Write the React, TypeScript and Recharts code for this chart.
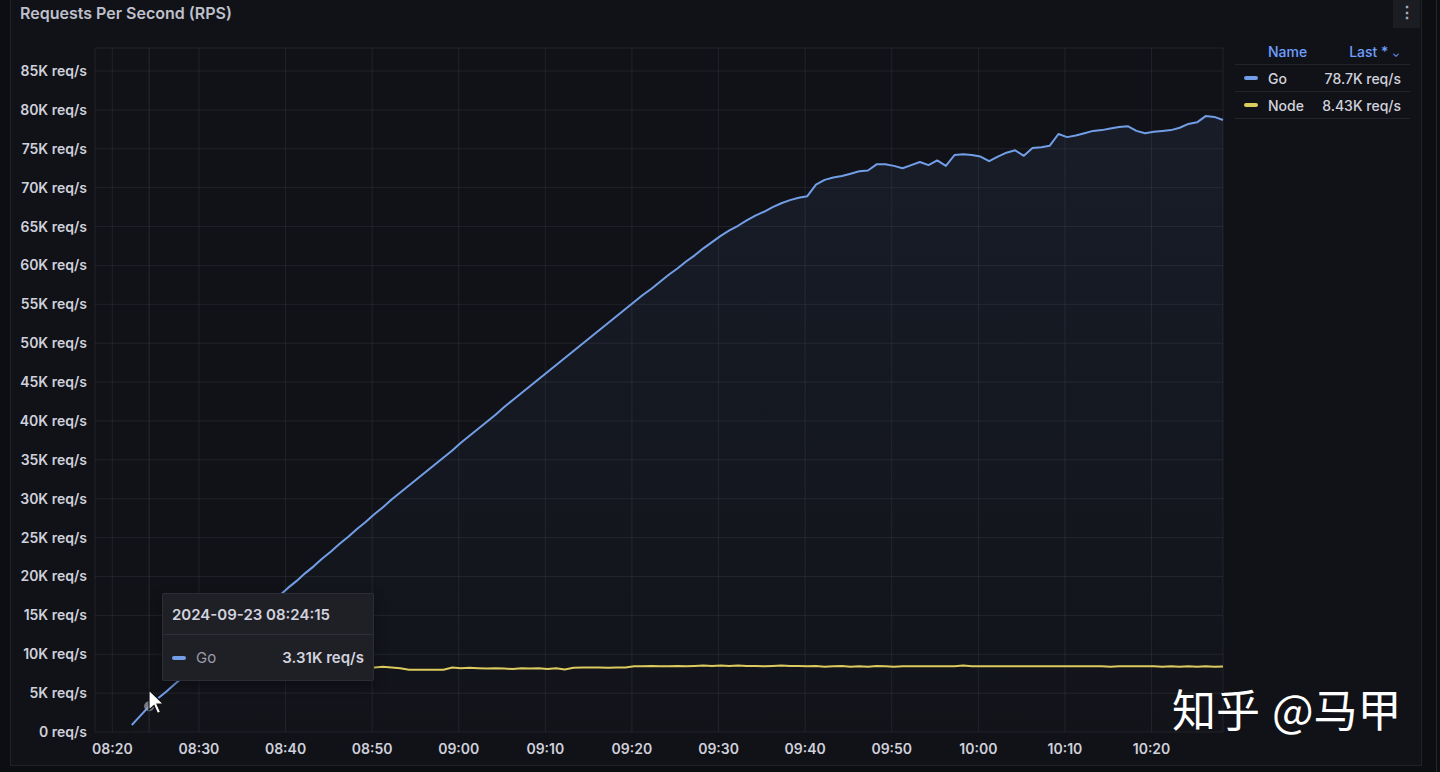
import React from 'react'
import { ComposedChart, Area, Line, XAxis, YAxis, CartesianGrid, Tooltip } from 'recharts'

// one sample per minute, first one at 2024-09-23 08:22:15 (minutes after 08:00)
const START_MINUTE = 22.25

// K req/s
const GO_RPS = [
  0.9, 2.1, 3.31, 4.3, 5.2, 6.2, 7.1, 8.1, 9.0, 10.0,
  10.9, 11.9, 12.8, 13.8, 14.7, 15.7, 16.6, 17.5, 18.5, 19.4,
  20.4, 21.3, 22.3, 23.2, 24.2, 25.1, 26.1, 27.0, 28.0, 28.9,
  29.9, 30.8, 31.7, 32.6, 33.5, 34.4, 35.3, 36.2, 37.2, 38.1,
  39.0, 39.9, 40.8, 41.8, 42.7, 43.6, 44.5, 45.4, 46.3, 47.2,
  48.1, 49.0, 49.9, 50.8, 51.7, 52.6, 53.5, 54.4, 55.3, 56.2,
  57.0, 57.9, 58.8, 59.6, 60.5, 61.3, 62.2, 63.0, 63.8, 64.5,
  65.1, 65.8, 66.4, 66.9, 67.5, 68.0, 68.4, 68.7, 68.9, 70.4,
  71.0, 71.3, 71.5, 71.8, 72.1, 72.2, 73.0, 73.0, 72.8, 72.5,
  72.9, 73.3, 72.9, 73.5, 72.8, 74.2, 74.3, 74.2, 74.0, 73.4,
  74.0, 74.5, 74.8, 74.1, 75.1, 75.2, 75.4, 76.9, 76.5, 76.7,
  77.0, 77.3, 77.4, 77.6, 77.8, 77.9, 77.3, 77.0, 77.2, 77.3,
  77.4, 77.7, 78.2, 78.4, 79.2, 79.1, 78.7,
]

const NODE_RPS: (number | null)[] = [
  null, null, null, null, null,
  8.2, 8.3, 8.35, 8.3, 8.3, 8.25, 8.3, 8.35, 8.3, 8.3,
  8.3, 8.35, 8.3, 8.3, 8.25, 8.3, 8.3, 8.35, 8.3, 8.3,
  8.3, 8.35, 8.3, 8.3, 8.4, 8.3, 8.2, 8.0, 8.0, 8.0,
  8.0, 8.0, 8.3, 8.2, 8.25, 8.2, 8.15, 8.2, 8.15, 8.1,
  8.2, 8.15, 8.2, 8.1, 8.2, 8.05, 8.25, 8.3, 8.3, 8.3,
  8.25, 8.3, 8.3, 8.45, 8.45, 8.5, 8.45, 8.45, 8.5, 8.45,
  8.5, 8.55, 8.5, 8.55, 8.5, 8.55, 8.5, 8.5, 8.45, 8.5,
  8.55, 8.5,
  8.5, 8.45, 8.5, 8.4, 8.45, 8.5, 8.4, 8.45, 8.4, 8.5,
  8.45, 8.4, 8.45, 8.45, 8.45, 8.45, 8.45, 8.45, 8.45, 8.55,
  8.45, 8.45, 8.45, 8.45, 8.45, 8.45, 8.45, 8.45, 8.45, 8.45,
  8.45, 8.45, 8.45, 8.45, 8.45, 8.45, 8.4, 8.45, 8.45, 8.45,
  8.45, 8.45, 8.4, 8.45, 8.4, 8.45, 8.4, 8.45, 8.4, 8.43,
]

const X_TICKS = [20, 30, 40, 50, 60, 70, 80, 90, 100, 110, 120, 130, 140]
const Y_TICKS = [0, 5, 10, 15, 20, 25, 30, 35, 40, 45, 50, 55, 60, 65, 70, 75, 80, 85]
const HOVER_INDEX = 2

const GO_COLOR = '#729ee8'
const NODE_COLOR = '#dccb5e'
const TEXT = '#cfd0db'
const FONT = 'Inter, "Noto Sans", sans-serif'

const data = GO_RPS.map((go, i) => ({
  t: START_MINUTE + i,
  go,
  node: NODE_RPS[i],
}))

const pad = (n: number) => String(n).padStart(2, '0')
const clock = (m: number) => `${pad(8 + Math.floor(m / 60))}:${pad(Math.floor(m % 60))}`
const clockSec = (m: number) => `${clock(m)}:${pad(Math.round((m % 1) * 60))}`
const fmtRps = (v: number) => (v === 0 ? '0 req/s' : `${v >= 10 ? v.toFixed(1) : v.toFixed(2)}K req/s`)
const fmtTick = (v: number) => (v === 0 ? '0 req/s' : `${v}K req/s`)

function HoverTip({ active, payload, label }: any) {
  if (!active || !payload) return null
  const rows = payload.filter((p: any) => p.value != null)
  return (
    <div style={{
      width: 210, background: '#1f2026', border: '1px solid #2c2e35', borderRadius: 2,
      fontFamily: FONT, color: '#d2d3de', boxShadow: '0 4px 12px rgba(0,0,0,0.35)',
    }}>
      <div style={{ padding: '11px 9px 10px', fontSize: 15, fontWeight: 600, borderBottom: '1px solid #2e3037' }}>
        2024-09-23 {clockSec(label)}
      </div>
      {rows.map((p: any) => (
        <div key={p.dataKey} style={{ display: 'flex', alignItems: 'center', padding: '13px 9px 13px' }}>
          <span style={{ width: 14, height: 4, borderRadius: 2, background: p.color, marginRight: 10 }} />
          <span style={{ fontSize: 15, color: '#9b9da8', flex: 1 }}>{p.name}</span>
          <span style={{ fontSize: 15, fontWeight: 600 }}>{fmtRps(p.value)}</span>
        </div>
      ))}
    </div>
  )
}

function LegendTable() {
  const rows = [
    { name: 'Go', color: GO_COLOR, last: GO_RPS[GO_RPS.length - 1] },
    { name: 'Node', color: NODE_COLOR, last: NODE_RPS[NODE_RPS.length - 1] as number },
  ]
  const line = '1px solid #22242a'
  return (
    <div style={{ position: 'absolute', left: 1235, top: 40, width: 175, fontFamily: FONT, fontSize: 14, fontWeight: 500 }}>
      <div style={{ display: 'flex', height: 21, paddingTop: 3, alignItems: 'flex-start', color: '#6e9fff', borderBottom: line }}>
        <span style={{ marginLeft: 33, flex: 1 }}>Name</span>
        <span style={{ marginRight: 10 }}>Last * <span style={{ fontSize: 10 }}>⌄</span></span>
      </div>
      {rows.map(r => (
        <div key={r.name} style={{ display: 'flex', height: 26, alignItems: 'center', borderBottom: line, color: '#d2d3de' }}>
          <span style={{ width: 14, height: 4, borderRadius: 2, background: r.color, marginLeft: 9, marginRight: 10 }} />
          <span style={{ flex: 1 }}>{r.name}</span>
          <span style={{ marginRight: 9 }}>{fmtRps(r.last)}</span>
        </div>
      ))}
    </div>
  )
}

export default function App() {
  return (
    <div style={{ position: 'absolute', left: 0, top: 0, width: 1440, height: 772, background: '#0d0e11', overflow: 'hidden' }}>
      <div style={{
        position: 'absolute', left: 10, top: -2, width: 1410, height: 766,
        background: '#111217', border: '1px solid #202227',
      }} />
      <div style={{ position: 'absolute', left: 1436, top: 0, width: 1, height: 772, background: '#26272c' }} />
      <div style={{
        position: 'absolute', left: 20, top: 3, fontFamily: FONT, fontSize: 16, fontWeight: 600, color: '#bfc0cc',
      }}>
        Requests Per Second (RPS)
      </div>
      <div style={{
        position: 'absolute', left: 1393, top: 0, width: 27, height: 28, background: '#1c1d22',
        color: '#a8aab5', fontFamily: FONT, fontSize: 16, fontWeight: 700, textAlign: 'center', lineHeight: '24px',
      }}>⋮</div>

      <div style={{ position: 'absolute', left: 0, top: 0 }}>
        <ComposedChart width={1440} height={772} data={data} margin={{ top: 48, right: 217, bottom: 0, left: 0 }}>
          <defs>
            <linearGradient id="goFill" x1="0" y1="0" x2="0" y2="1">
              <stop offset="0%" stopColor="#5f8fe0" stopOpacity={0.14} />
              <stop offset="100%" stopColor="#5f8fe0" stopOpacity={0.02} />
            </linearGradient>
          </defs>
          <CartesianGrid stroke="rgba(204,204,220,0.09)" />
          <XAxis
            dataKey="t"
            type="number"
            domain={[18, 148.25]}
            ticks={X_TICKS}
            tickFormatter={clock}
            axisLine={false}
            tickLine={false}
            height={40}
            tickMargin={6}
            tick={{ fontSize: 14, fontWeight: 600, fill: TEXT, fontFamily: FONT }}
          />
          <YAxis
            type="number"
            domain={[0, 87.96]}
            ticks={Y_TICKS}
            tickFormatter={fmtTick}
            axisLine={false}
            tickLine={false}
            width={95}
            interval={0}
            tick={{ fontSize: 14, fontWeight: 600, fill: TEXT, fontFamily: FONT }}
          />
          <Area
            dataKey="go"
            name="Go"
            type="linear"
            stroke={GO_COLOR}
            strokeWidth={2}
            strokeLinejoin="round"
            fill="url(#goFill)"
            isAnimationActive={false}
            activeDot={{ r: 5, fill: 'rgba(150,158,175,0.75)', stroke: 'none' }}
          />
          <Line
            dataKey="node"
            name="Node"
            type="linear"
            stroke={NODE_COLOR}
            strokeWidth={2}
            dot={false}
            activeDot={false}
            isAnimationActive={false}
          />
          <Tooltip
            active
            defaultIndex={HOVER_INDEX}
            position={{ x: 162, y: 593 }}
            content={<HoverTip />}
            cursor={{ stroke: 'rgba(204,204,220,0.13)', strokeWidth: 1 }}
            isAnimationActive={false}
            wrapperStyle={{ outline: 'none', zIndex: 5 }}
          />
        </ComposedChart>
      </div>

      <LegendTable />

      <svg style={{ position: 'absolute', left: 148, top: 689, zIndex: 10 }} width="18" height="28" viewBox="0 0 18 28">
        <path d="M1,1 L1,21 L6,16.5 L9.5,24.5 L12.5,23 L9,15 L15.5,15 Z" fill="#ffffff" stroke="#111" strokeWidth="1.2" />
      </svg>

      <div style={{
        position: 'absolute', left: 1172, top: 676, fontFamily: '"Noto Sans CJK SC", sans-serif', fontSize: 44,
        color: '#ffffff', whiteSpace: 'pre', zIndex: 10,
      }}>
        知乎<span style={{ marginLeft: 12 }}>@马甲</span>
      </div>
    </div>
  )
}
